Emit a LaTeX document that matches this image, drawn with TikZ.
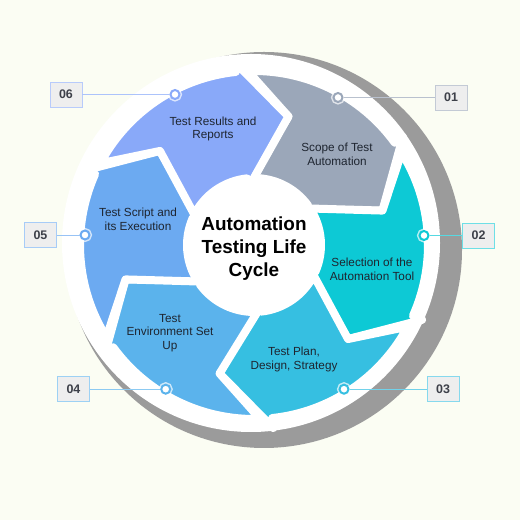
\documentclass[tikz,border=0pt]{standalone}
\usepackage{fontspec}
\setmainfont{Liberation Sans}
\definecolor{bgcream}{HTML}{FBFDF3}
\definecolor{segone}{HTML}{9BA7B9}
\definecolor{segtwo}{HTML}{0DC9D5}
\definecolor{segthree}{HTML}{36BFE1}
\definecolor{segfour}{HTML}{5BB3EC}
\definecolor{segfive}{HTML}{6CAAF1}
\definecolor{segsix}{HTML}{89A9F9}
\definecolor{shadowgrey}{HTML}{9B9B9B}
\definecolor{boxgrey}{HTML}{EEEEEE}
\definecolor{numtext}{HTML}{3D4049}
\definecolor{labeltext}{HTML}{1E2530}
\tikzset{
  numbox/.style={draw=#1!60, fill=boxgrey, line width=0.8bp, minimum width=32bp, minimum height=25bp, inner sep=0pt, font=\bfseries\fontsize{12.5}{14}\selectfont, text=numtext},
  marker/.style={circle, draw=#1, fill=white, line width=2bp, minimum size=9bp, inner sep=0pt, preaction={draw=white, draw opacity=0.7, line width=5bp}},
  link/.style={draw=#1!70, line width=0.8bp},
  steplabel/.style={align=center, font=\fontsize{11.8}{13.8}\selectfont, text=labeltext}
}
\begin{document}
\begin{tikzpicture}[x=1bp,y=1bp]
        \fill[bgcream] (0,0) rectangle (520,520);
        \fill[shadowgrey] (264,270) circle (198);
        \fill[white] (251,277) circle (189);
        \foreach \b/\c in {36/segone, -24/segtwo, -84/segthree, -144/segfour, -204/segfive, -264/segsix} {
                \filldraw[fill=\c, draw=white, line width=8bp, line join=round, shift={(254,275)}]
                    (\b+56:174) arc[start angle=\b+56, end angle=\b, radius=174] -- (\b:184) -- (\b-21:133)
                    -- (\b:57) -- (\b:67) arc[start angle=\b, end angle=\b+57, radius=67] -- (\b+39:133) -- cycle;
            }
        \node[steplabel] (lab01) at (337,366) {Scope of Test\\Automation};
        \node[steplabel] (lab02) at (372,251) {Selection of the\\Automation Tool};
        \node[steplabel] (lab03) at (294,160.5) {Test Plan,\\Design, Strategy};
        \node[steplabel] (lab04) at (170,187) {Test\\Environment Set\\Up};
        \node[steplabel] (lab05) at (138,300.5) {Test Script and\\its Execution};
        \node[steplabel] (lab06) at (213,391) {Test Results and\\Reports};
        \node[align=center, font=\bfseries\fontsize{19}{23}\selectfont] (title) at (254,271) {Automation\\Testing Life\\Cycle};
        \foreach \n/\c/\mx/\bx/\y in {01/segone/338/451/422.5, 02/segtwo/424/478.5/284.5, 03/segthree/344/443/130.8,
                04/segfour/165.7/73.5/130.8, 05/segfive/85/40.5/285, 06/segsix/175/66/425.5} {
                \node[marker=\c] (mark\n) at (\mx,\y) {};
                \node[numbox=\c] (box\n) at (\bx,\y) {\n};
                \draw[link=\c] (mark\n) -- (box\n);
            }
    \end{tikzpicture}
\end{document}
